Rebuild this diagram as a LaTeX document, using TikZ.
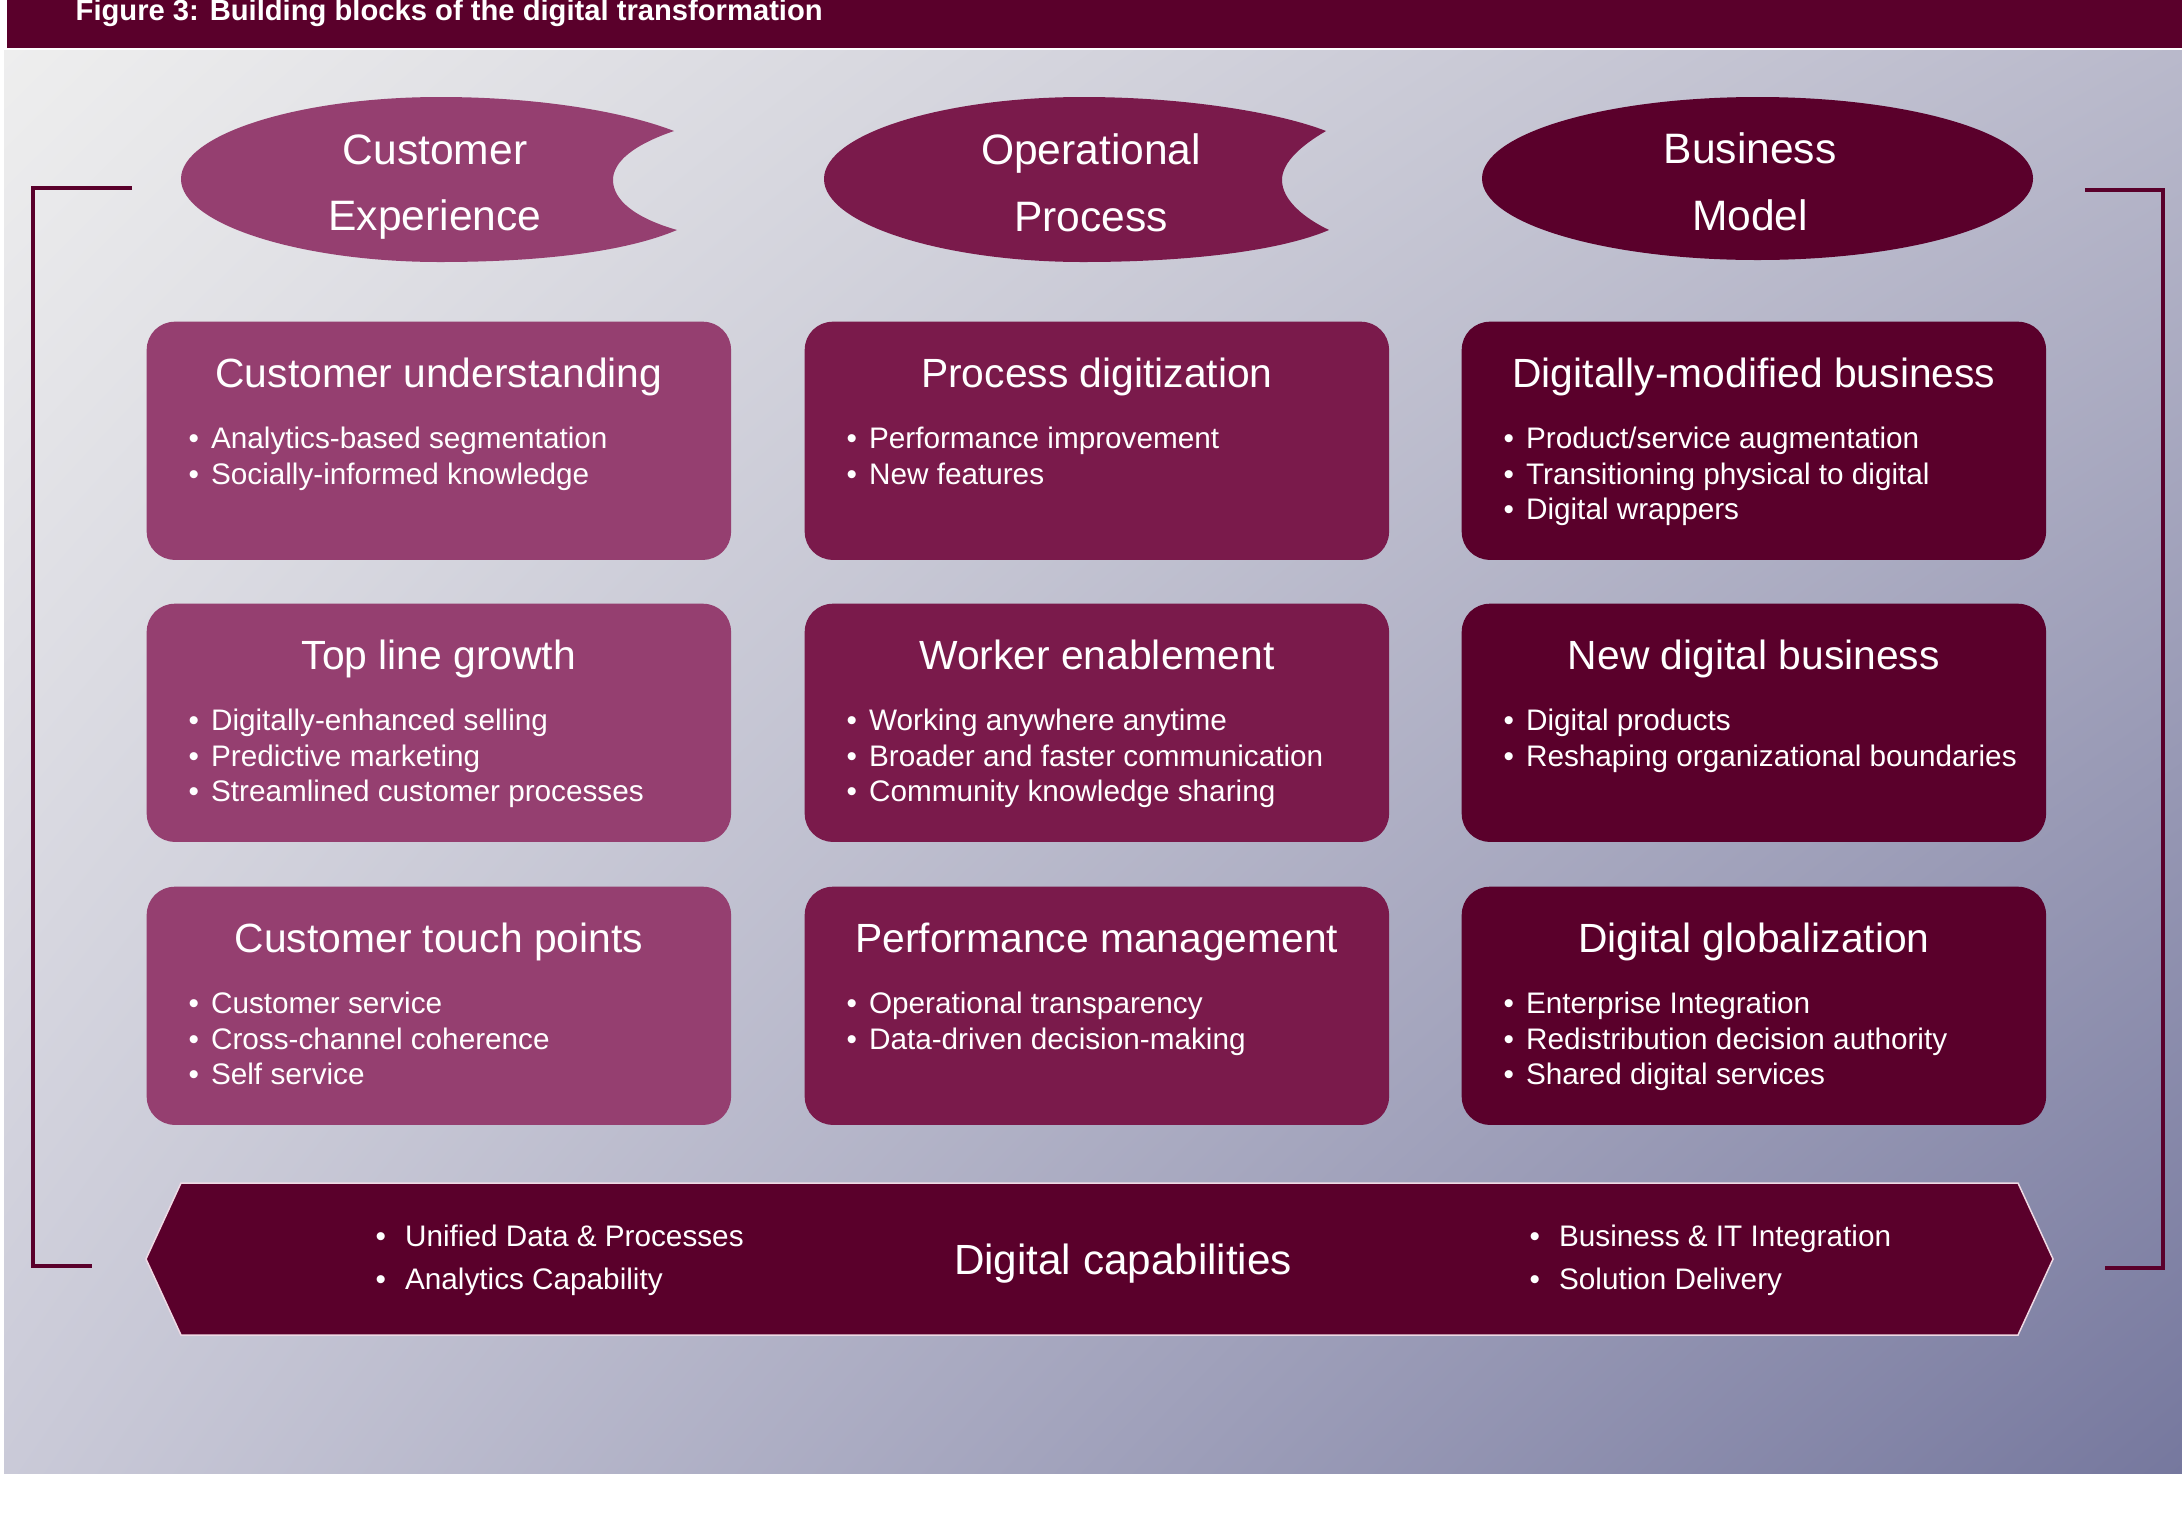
\documentclass[tikz,border=0pt]{standalone}
\usepackage{fontspec}
\setmainfont{Liberation Sans}
\usetikzlibrary{calc,shadings}

\definecolor{cecol}{HTML}{953F70}
\definecolor{opcol}{HTML}{7A1A4B}
\definecolor{bmcol}{HTML}{5A002B}
\definecolor{bgtl}{HTML}{EEEEEE}
\definecolor{bgtr}{HTML}{B9B9CB}
\definecolor{bgbl}{HTML}{CACAD8}
\definecolor{bgbr}{HTML}{76789E}
\definecolor{rimcol}{HTML}{EFD9E4}

\begin{document}
\begin{tikzpicture}[x=0.01cm,y=-0.01cm,
  blk/.style={rounded corners=0.28cm,minimum width=5.84cm,minimum height=2.38cm,inner sep=0pt},
  blktitle/.style={text=white,font=\fontsize{11.6}{14}\selectfont,inner sep=0pt},
  item/.style={text=white,font=\fontsize{8.45}{10}\selectfont,inner sep=0pt},
  head/.style={text=white,align=center,font=\fontsize{12.1}{19}\selectfont,inner sep=0pt},
  brace/.style={draw=bmcol,line width=0.04cm}]

% ---- page, backdrop and title bar ----
\fill[white,use as bounding box] (0,0) rectangle (2182,1536);
\shade[upper left=bgtl,upper right=bgtr,lower left=bgbl,lower right=bgbr] (4,50) rectangle (2182,1473);
\fill[bmcol] (7,-20) rectangle (2182,48);
\node[anchor=base west,inner sep=0pt,text=white,font=\bfseries\fontsize{8.3}{10}\selectfont] (fig) at (75,20)
  {Figure 3: Building blocks of the digital transformation};

% ---- column heads (notched ellipses, one plain) ----
\foreach \dx/\fc/\tx/\nx in {0/cecol/0/613,643/opcol/9/639}
  \fill[\fc,shift={(\dx,0)}] (181,179) .. controls (181,134) and (300,97) .. (440,97)
    .. controls (540,97) and (625+\tx,112) .. (674+\tx,131)
    .. controls (\nx+20,145) and (\nx,162) .. (\nx,180)
    .. controls (\nx,200) and (\nx+22,218) .. (677+\tx,230)
    .. controls (625+\tx,252) and (540,262) .. (440,262)
    .. controls (300,262) and (181,224) .. (181,179) -- cycle;
\fill[bmcol] (1757.5,178.5) ellipse [x radius=275.5,y radius=81.5];
\node[head] (ce) at (435,187) {Customer\\Experience};
\node[head] (op) at (1091,183) {Operational\\Process};
\node[head] (bm) at (1750,182) {Business\\Model};

% ---- building blocks ----
\foreach \nm/\bx/\by/\fc/\ttl/\itms in {
  cu/146/321/cecol/{Customer understanding}/{Analytics-based segmentation,Socially-informed knowledge},
  tg/146/603/cecol/{Top line growth}/{Digitally-enhanced selling,Predictive marketing,Streamlined customer processes},
  tp/146/886/cecol/{Customer touch points}/{Customer service,Cross-channel coherence,Self service},
  pd/804/321/opcol/{Process digitization}/{Performance improvement,New features},
  we/804/603/opcol/{Worker enablement}/{Working anywhere anytime,Broader and faster communication,Community knowledge sharing},
  pm/804/886/opcol/{Performance management}/{Operational transparency,Data-driven decision-making},
  dm/1461/321/bmcol/{Digitally-modified business}/{{Product/service augmentation},Transitioning physical to digital,Digital wrappers},
  nd/1461/603/bmcol/{New digital business}/{Digital products,Reshaping organizational boundaries},
  dg/1461/886/bmcol/{Digital globalization}/{Enterprise Integration,Redistribution decision authority,Shared digital services}}{
  \node[blk,fill=\fc,anchor=north west] (\nm) at (\bx,\by) {};
  \node[blktitle,anchor=base] (\nm-t) at ($(\nm.north)+(0,66)$) {\ttl};
  \foreach \blt [count=\k] in \itms
    \node[item,anchor=base west] (\nm-\k) at ($(\nm.north west)+(42,{127.5+35.5*(\k-1)})$)
      {\textbullet\hspace{3.4pt}\blt};
}

% ---- brackets ----
\draw[brace] (132,188) -- (33,188) -- (33,1266) -- (92,1266);
\draw[brace] (2085,190) -- (2163,190) -- (2163,1268) -- (2105,1268);

% ---- digital capabilities banner ----
\filldraw[fill=bmcol,draw=rimcol,line width=0.015cm]
  (146,1259) -- (181,1183) -- (2018,1183) -- (2053,1259) -- (2018,1335) -- (181,1335) -- cycle;
\node[text=white,font=\fontsize{12}{14}\selectfont,inner sep=0pt] (dc) at (1123,1264) {Digital capabilities};
\node[item,anchor=base west] (dc-l1) at (375,1246) {\textbullet\hspace{5.4pt}Unified Data \& Processes};
\node[item,anchor=base west] (dc-l2) at (375,1289) {\textbullet\hspace{5.4pt}Analytics Capability};
\node[item,anchor=base west] (dc-r1) at (1529,1246) {\textbullet\hspace{5.4pt}Business \& IT Integration};
\node[item,anchor=base west] (dc-r2) at (1529,1289) {\textbullet\hspace{5.4pt}Solution Delivery};
\end{tikzpicture}
\end{document}
